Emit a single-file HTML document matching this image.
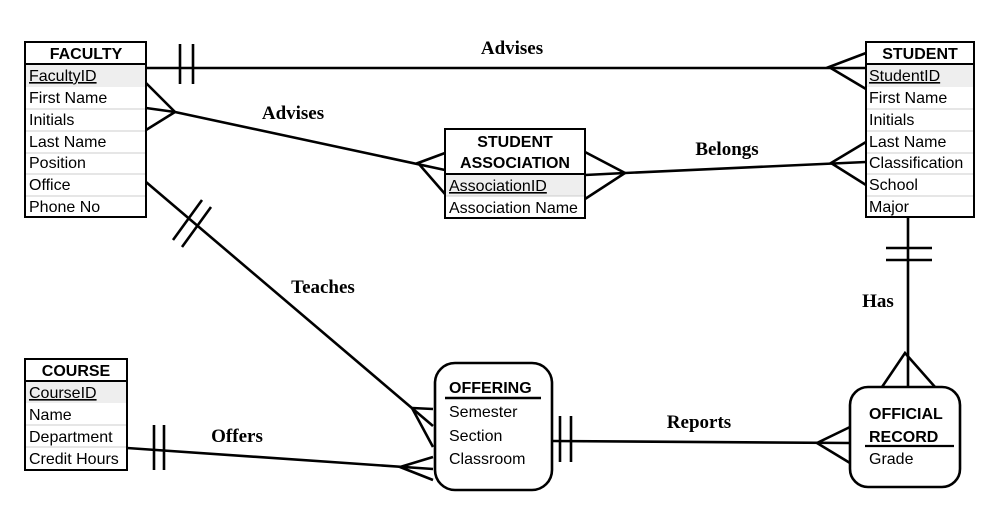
<!DOCTYPE html>
<html><head><meta charset="utf-8"><style>
html,body{margin:0;padding:0;background:#fff;}
svg{display:block;}
.h{font-family:"Liberation Sans",sans-serif;font-weight:bold;font-size:16px;}
.a{font-family:"Liberation Sans",sans-serif;font-size:16px;}
.l{font-family:"Liberation Serif",serif;font-weight:bold;font-size:19px;}
</style></head><body>
<svg width="998" height="525" viewBox="0 0 998 525" xmlns="http://www.w3.org/2000/svg">
<g fill="none" stroke="#000" stroke-width="2.6">
<line x1="146" y1="68" x2="866" y2="68"/>
<line x1="180" y1="44" x2="180" y2="84"/><line x1="193" y1="44" x2="193" y2="84"/>
<polyline points="866,53 829,67 866,89"/>
<polyline points="146,83 175,112 146,130"/>
<line x1="146" y1="108" x2="175" y2="112"/>
<line x1="175" y1="112" x2="445" y2="170"/>
<polyline points="445,153 418,163 445,194"/>
<polyline points="585,152 625,173 585,199"/>
<line x1="585" y1="175" x2="625" y2="173"/>
<line x1="625" y1="173" x2="866" y2="162"/>
<polyline points="866,142 831,163 866,185"/>
<line x1="146" y1="182" x2="433" y2="426"/>
<line x1="173" y1="240" x2="202" y2="200"/><line x1="182" y1="247" x2="211" y2="207"/>
<polyline points="433,409 412,408 433,447"/>
<line x1="127" y1="448" x2="433" y2="469"/>
<line x1="154" y1="425" x2="154" y2="470"/><line x1="164" y1="425" x2="164" y2="470"/>
<polyline points="433,457 400,467 433,480"/>
<line x1="552" y1="441" x2="850" y2="443"/>
<line x1="560" y1="416" x2="560" y2="462"/><line x1="571" y1="416" x2="571" y2="462"/>
<polyline points="850,427 817,443 850,463"/>
<line x1="908" y1="217" x2="908" y2="387"/>
<line x1="886" y1="248" x2="932" y2="248"/><line x1="886" y1="260" x2="932" y2="260"/>
<polyline points="882,387 905,353 935,387"/>
</g>

<rect x="25" y="64" width="121" height="23" fill="#eee"/>
<g stroke="#ccc" stroke-width="1">
<line x1="25" y1="109" x2="146" y2="109"/><line x1="25" y1="131" x2="146" y2="131"/><line x1="25" y1="153" x2="146" y2="153"/><line x1="25" y1="174" x2="146" y2="174"/><line x1="25" y1="196" x2="146" y2="196"/>
</g>
<rect x="25" y="42" width="121" height="175" fill="none" stroke="#000" stroke-width="2"/>
<line x1="25" y1="64" x2="146" y2="64" stroke="#000" stroke-width="2"/>
<text class="h" x="86" y="59" text-anchor="middle">FACULTY</text>
<g class="a"><text x="29" y="81" text-decoration="underline">FacultyID</text><text x="29" y="103">First Name</text><text x="29" y="125">Initials</text><text x="29" y="147">Last Name</text><text x="29" y="168">Position</text><text x="29" y="190">Office</text><text x="29" y="212">Phone No</text></g>

<rect x="866" y="64" width="108" height="23" fill="#eee"/>
<g stroke="#ccc" stroke-width="1">
<line x1="866" y1="109" x2="974" y2="109"/><line x1="866" y1="131" x2="974" y2="131"/><line x1="866" y1="153" x2="974" y2="153"/><line x1="866" y1="174" x2="974" y2="174"/><line x1="866" y1="196" x2="974" y2="196"/>
</g>
<rect x="866" y="42" width="108" height="175" fill="none" stroke="#000" stroke-width="2"/>
<line x1="866" y1="64" x2="974" y2="64" stroke="#000" stroke-width="2"/>
<text class="h" x="920" y="59" text-anchor="middle">STUDENT</text>
<g class="a"><text x="869" y="81" text-decoration="underline">StudentID</text><text x="869" y="103">First Name</text><text x="869" y="125">Initials</text><text x="869" y="147">Last Name</text><text x="869" y="168">Classification</text><text x="869" y="190">School</text><text x="869" y="212">Major</text></g>

<rect x="445" y="174" width="140" height="22" fill="#eee"/>
<line x1="445" y1="196" x2="585" y2="196" stroke="#ccc"/>
<rect x="445" y="129" width="140" height="89" fill="none" stroke="#000" stroke-width="2"/>
<line x1="445" y1="174" x2="585" y2="174" stroke="#000" stroke-width="2"/>
<text class="h" x="515" y="147" text-anchor="middle">STUDENT</text>
<text class="h" x="515" y="168" text-anchor="middle">ASSOCIATION</text>
<g class="a"><text x="449" y="191" text-decoration="underline">AssociationID</text><text x="449" y="213">Association Name</text></g>

<rect x="25" y="381" width="102" height="22" fill="#eee"/>
<g stroke="#ccc" stroke-width="1"><line x1="25" y1="425" x2="127" y2="425"/><line x1="25" y1="447" x2="127" y2="447"/></g>
<rect x="25" y="359" width="102" height="111" fill="none" stroke="#000" stroke-width="2"/>
<line x1="25" y1="381" x2="127" y2="381" stroke="#000" stroke-width="2"/>
<text class="h" x="76" y="376" text-anchor="middle">COURSE</text>
<g class="a"><text x="29" y="398" text-decoration="underline">CourseID</text><text x="29" y="420">Name</text><text x="29" y="442">Department</text><text x="29" y="464">Credit Hours</text></g>

<rect x="435" y="363" width="117" height="127" rx="20" fill="#fff" stroke="#000" stroke-width="2.6"/>
<text class="h" x="449" y="393">OFFERING</text>
<line x1="445" y1="398" x2="541" y2="398" stroke="#000" stroke-width="2.4"/>
<g class="a"><text x="449" y="417">Semester</text><text x="449" y="441">Section</text><text x="449" y="464">Classroom</text></g>

<rect x="850" y="387" width="110" height="100" rx="18" fill="#fff" stroke="#000" stroke-width="2.6"/>
<text class="h" x="869" y="419">OFFICIAL</text>
<text class="h" x="869" y="442">RECORD</text>
<line x1="865" y1="446" x2="954" y2="446" stroke="#000" stroke-width="2.2"/>
<text class="a" x="869" y="464">Grade</text>

<g class="l">
<text x="512" y="54" text-anchor="middle">Advises</text>
<text x="293" y="119" text-anchor="middle">Advises</text>
<text x="727" y="155" text-anchor="middle">Belongs</text>
<text x="323" y="293" text-anchor="middle">Teaches</text>
<text x="878" y="307" text-anchor="middle">Has</text>
<text x="237" y="442" text-anchor="middle">Offers</text>
<text x="699" y="428" text-anchor="middle">Reports</text>
</g>
</svg>
</body></html>
